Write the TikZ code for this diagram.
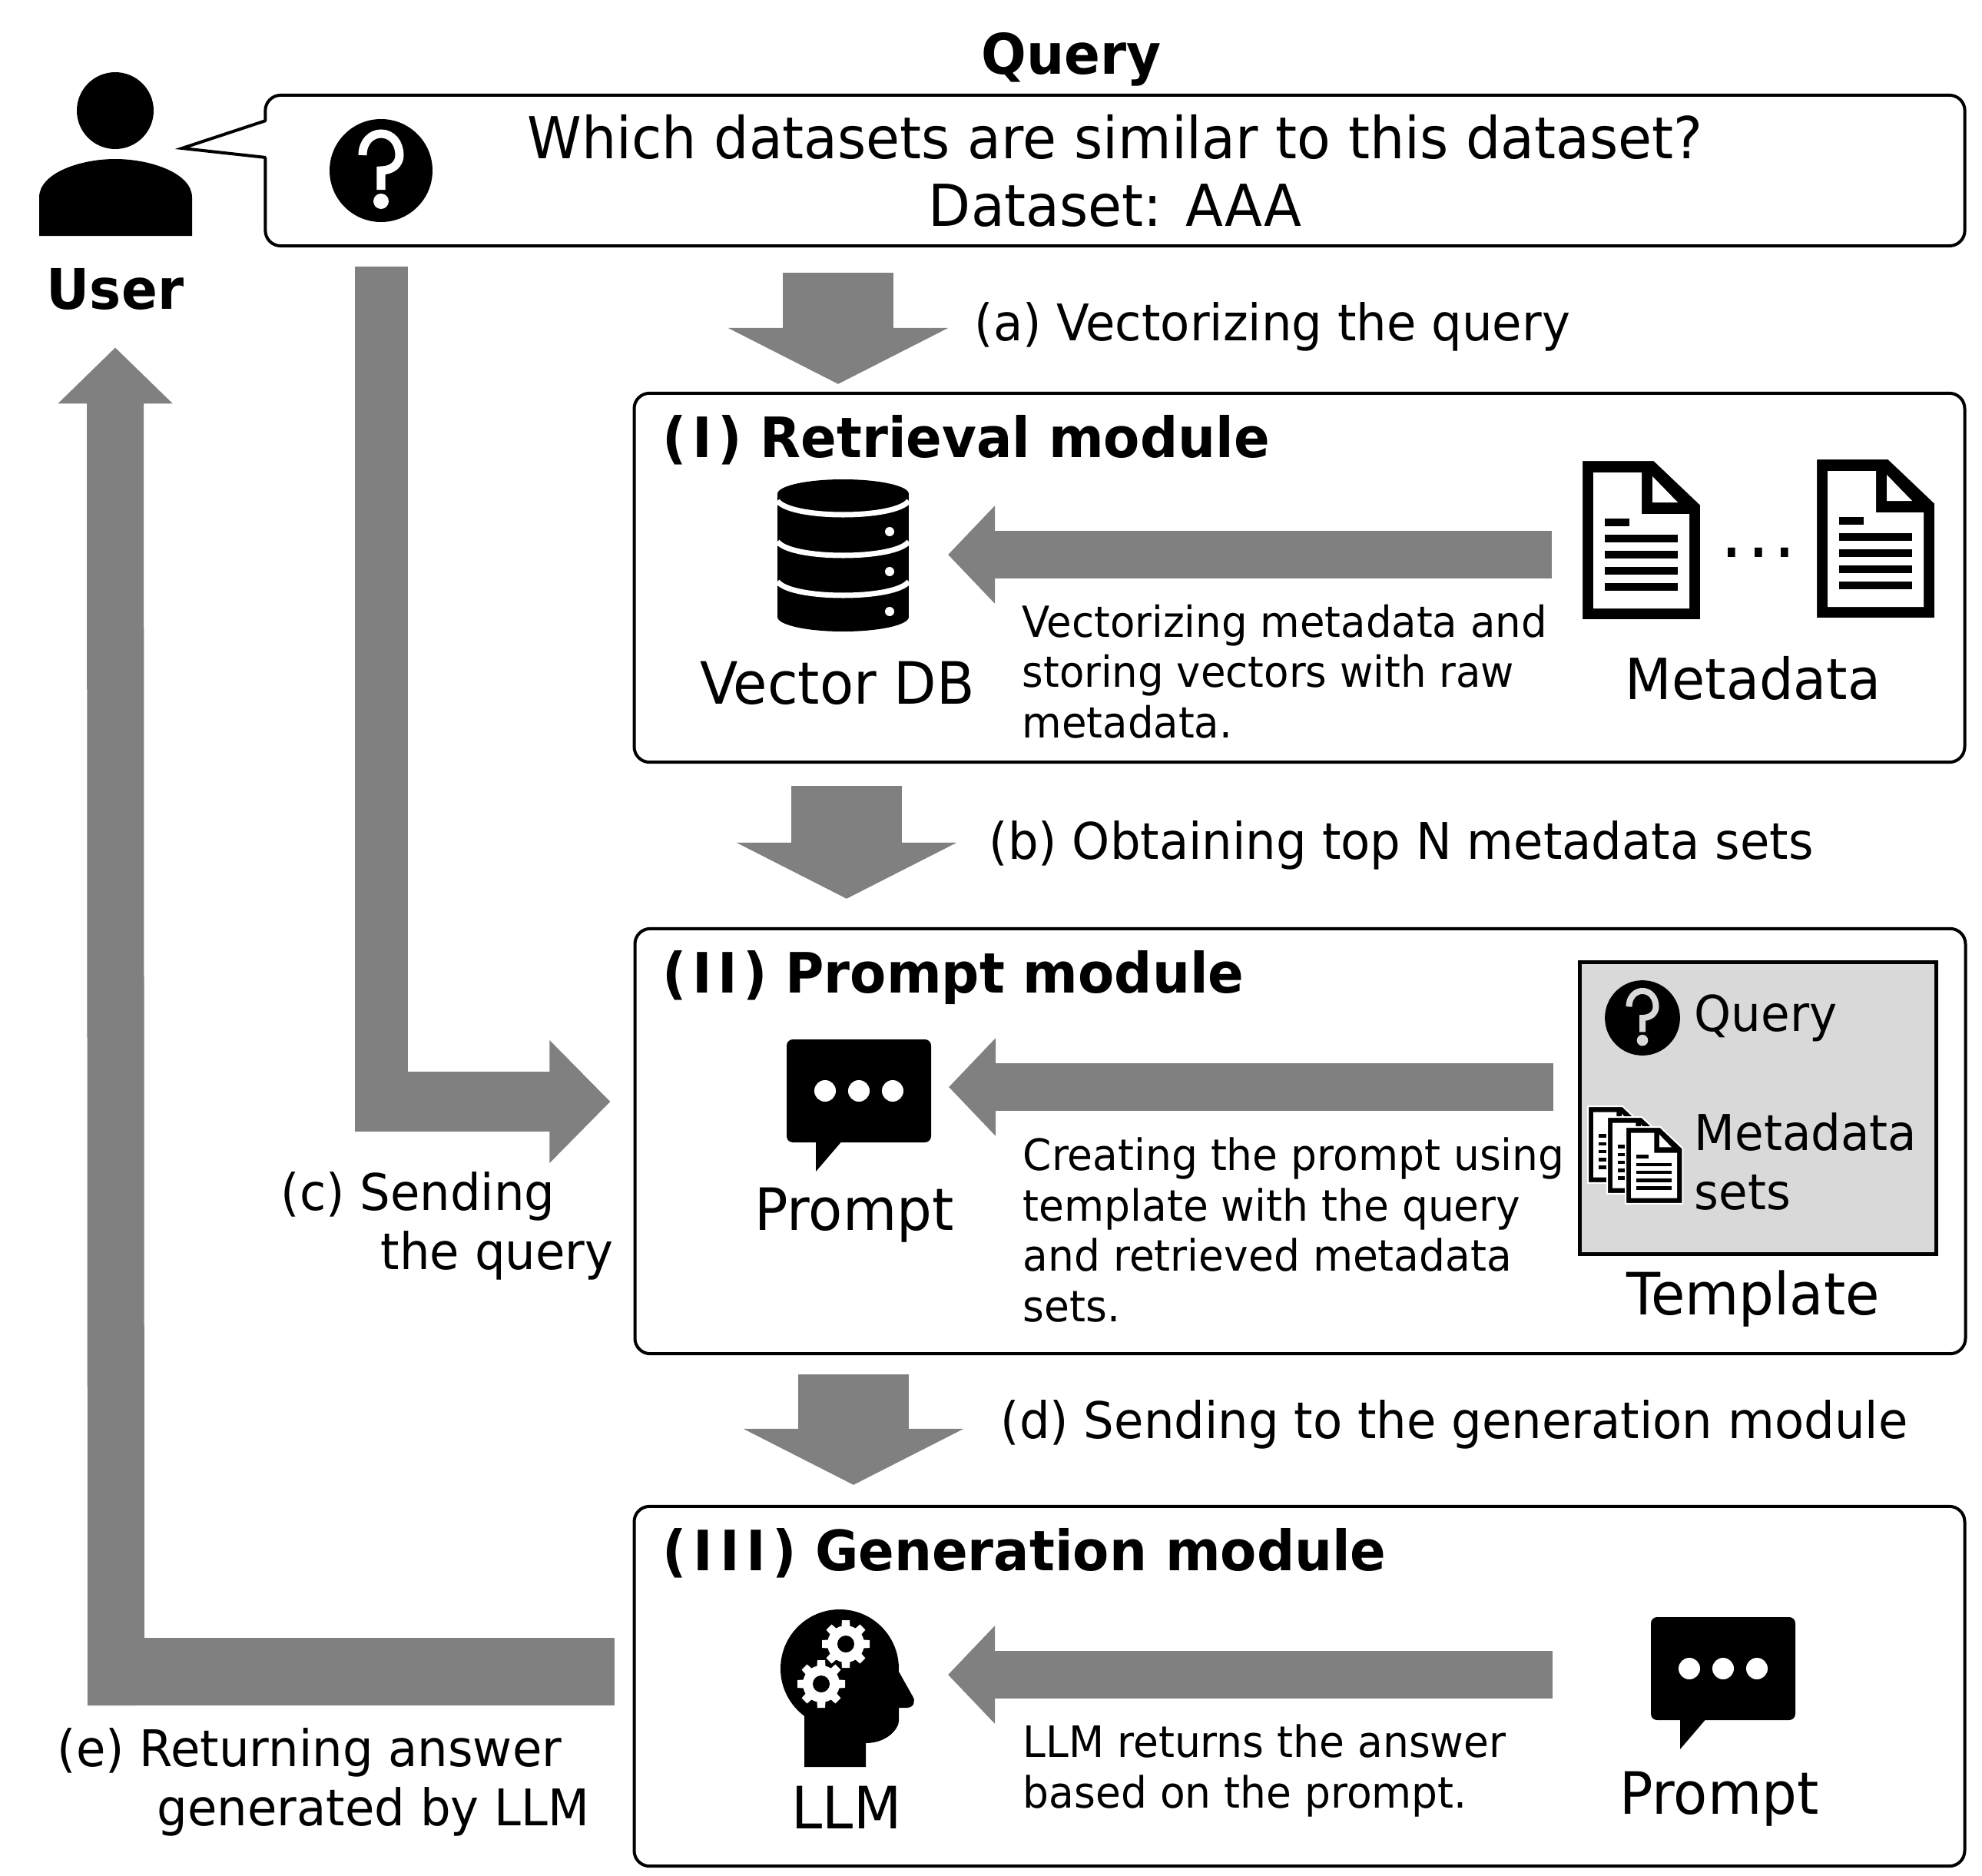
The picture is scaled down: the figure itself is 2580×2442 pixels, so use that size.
\documentclass[tikz,border=0pt]{standalone}
\usepackage{fontspec}
\setmainfont[FakeStretch=0.95]{DejaVu Sans}
\usetikzlibrary{arrows.meta}
\usetikzlibrary{positioning}
\definecolor{arrowgray}{HTML}{808080}
\definecolor{tmplgray}{HTML}{D9D9D9}

\begin{document}
\begin{tikzpicture}[x=0.01cm,y=-0.01cm,
    bigtext/.style={font=\fontsize{21.6}{25}\selectfont,inner sep=0},
    midtext/.style={font=\fontsize{18.7}{21.9}\selectfont,inner sep=0},
    tmpltext/.style={font=\fontsize{18.3}{21.9}\selectfont,inner sep=0},
    desctext/.style={font=\fontsize{15.85}{18.7}\selectfont,inner sep=0,align=left},
    titletext/.style={font=\fontsize{20.6}{25}\bfseries\selectfont,inner sep=0},
    headtext/.style={font=\fontsize{20.7}{25}\bfseries\selectfont,inner sep=0},
    modbox/.style={draw,line width=0.04cm,rounded corners=0.2cm,inner sep=0,minimum width=17.31cm},
    iconbox/.style={inner sep=0,outer sep=0},
    vbar/.style={draw=arrowgray,line width=1.43cm,-{Triangle[length=0.73cm,width=2.84cm]},arrowgray},
    hbar/.style={draw=arrowgray,line width=0.62cm,-{Triangle[length=0.61cm,width=1.24cm]},arrowgray},
    qmark/.style={draw=white,fill=white,line width=0.11cm},
    docicon/.pic={
      \filldraw[black,draw=white,line width=0.02cm] (0,0) -- (94,0) -- (155,58) -- (155,208) -- (0,208) -- cycle;
      \fill[white] (15,16) -- (78,16) -- (78,70) -- (140,70) -- (140,193) -- (15,193) -- cycle;
      \fill[white] (92,21) -- (125,55) -- (92,55) -- cycle;
      \fill[black] (30,76) rectangle (62,86);
      \foreach\i in {97,118,139,160} {
        \fill[black] (30,\i) rectangle (125,\i+10);
      }
    },
    qicon/.pic={
      \fill[black] (0,0) circle [radius=67];
      \draw[qmark,fill=none] (-24,-20) .. controls (-24,-38) and (-12,-48) .. (0,-48)
        .. controls (14,-48) and (24,-36) .. (24,-20) .. controls (24,-8) and (14,0) .. (0,0) -- (0,25);
      \fill[qmark,draw=none] (0,40) circle [radius=10];
    },
    msgicon/.pic={
      \fill[black,rounded corners=0.08cm] (0,0) rectangle (188,134);
      \fill[black] (38,130) -- (74,130) -- (38,172) -- cycle;
      \foreach\i in {50,94,138} {
        \fill[white] (\i,67) circle [radius=14];
      }
    },
    gearicon/.pic={
      \fill[white] (0,0) circle [radius=24];
      \foreach\a in {0,45,...,315} {
        \fill[white,rotate=\a] (-7,0) -- (-5,-31) -- (5,-31) -- (7,0) -- cycle;
      }
      \fill[black] (0,0) circle [radius=11];
    }]
  \useasboundingbox (0,0) rectangle (2580,2442);

  \fill[black] (150,144) circle [radius=50];
  \fill[black] (51,307) -- (51,257) .. controls (51,225) and (105,207) .. (150,207)
    .. controls (195,207) and (250,225) .. (250,257) -- (250,307) -- cycle;
  \node[headtext,anchor=mid] (usertext) at (150,393) {User};
  \node[headtext,anchor=mid] (querytitle) at (1395,87) {Query};

  \node[modbox,minimum width=22.11cm,minimum height=1.96cm,font=\fontsize{21.4}{25}\selectfont,align=center] (querybox) at (1451.5,222)
    {Which datasets are similar to this dataset?\\Dataset: AAA};
  \fill[white] (350,157) -- (236,193) -- (350,205) -- cycle;
  \draw[line width=0.04cm] (346,157) -- (237,193) -- (346,205);
  \pic at (496,222) {qicon};

  \node[modbox,minimum height=4.8cm] (retrieval) at (1691.5,752) {};
  \node[modbox,minimum height=5.53cm] (promptbox) at (1692.5,1485.5) {};
  \node[modbox,minimum height=4.68cm] (genbox) at (1691.5,2195) {};

  \node[titletext,anchor=mid west] (title1) at (862,586) {{\addfontfeature{LetterSpace=10}(I)} Retrieval module};
  \node[titletext,anchor=mid west] (title2) at (862,1283) {{\addfontfeature{LetterSpace=10}(II)} Prompt module};
  \node[titletext,anchor=mid west] (title3) at (862,2035) {{\addfontfeature{LetterSpace=12}(III)} Generation module};

  \node[iconbox,minimum width=1.71cm,minimum height=1.98cm] (dbicon) at (1097.5,722) {};
  \fill[black] (1012,643) rectangle (1183,803);
  \fill[black] (1097.5,643) ellipse [x radius=85.5,y radius=19];
  \fill[black] (1097.5,803) ellipse [x radius=85.5,y radius=19];
  \foreach\i in {652,705,757} {
    \draw[white,line width=0.07cm] (1012,\i) .. controls (1030,\i+24) and (1165,\i+24) .. (1183,\i);
  }
  \foreach\i in {692,744,796} {
    \fill[white] (1158,\i) circle [radius=6];
  }
  \node[bigtext,anchor=mid] (dblabel) at (1090,907) {Vector DB};

  \node[iconbox,minimum width=1.55cm,minimum height=2.08cm] (doc1) at (2136.5,703) {};
  \pic at (2059,599) {docicon};
  \pic at (2364,597) {docicon};
  \node[inner sep=0,font=\fontsize{28}{32}\selectfont,anchor=base] (dots) at (2289,725) {.\kern0.05em.\kern0.05em.};
  \node[bigtext,font=\fontsize{21}{25}\selectfont,anchor=mid] (metalabel) at (2282,901) {Metadata};
  \node[desctext,anchor=west] (desc1) at (1330,874)
    {Vectorizing metadata and\\storing vectors with raw\\metadata.};
  \draw[hbar,shorten <=0.39cm,shorten >=0.51cm] (doc1.west |- dbicon.east) -- (dbicon.east);

  \node[iconbox,minimum width=1.88cm,minimum height=1.72cm] (prompticon) at (1118,1415) {};
  \pic at (1024,1353) {msgicon};
  \node[bigtext,anchor=mid] (promptlabel) at (1112,1592) {Prompt};
  \node[draw,line width=0.05cm,fill=tmplgray,inner sep=0,minimum width=4.64cm,minimum height=3.8cm] (tmplbox) at (2288.5,1442.5) {};
  \pic[scale=0.73,qmark/.style={draw=tmplgray,fill=tmplgray,line width=0.08cm}] at (2138,1325) {qicon};
  \node[tmpltext,anchor=mid west] (tmplquery) at (2205,1333) {Query};
  \pic[scale=0.48] at (2067,1440) {docicon};
  \pic[scale=0.48] at (2092,1454) {docicon};
  \pic[scale=0.48] at (2116,1467) {docicon};
  \node[tmpltext,anchor=mid west] (tmplmeta) at (2205,1488) {Metadata};
  \node[tmpltext,anchor=mid west] (tmplsets) at (2205,1565) {sets};
  \node[bigtext,anchor=mid] (tmpllabel) at (2282,1702) {Template};
  \node[desctext,font=\fontsize{16}{18.7}\selectfont,anchor=west] (desc2) at (1331,1601)
    {Creating the prompt using\\template with the query\\and retrieved metadata\\sets.};
  \draw[hbar,shorten <=0.32cm,shorten >=0.23cm] (tmplbox.west |- prompticon.east) -- (prompticon.east);

  \node[iconbox,minimum width=1.72cm,minimum height=2.06cm] (llmicon) at (1103,2197) {};
  \fill[black] (1093,2172) circle [radius=77];
  \fill[black] (1047,2225) -- (1047,2300) -- (1127,2300) -- (1127,2269)
    .. controls (1155,2269) and (1170,2250) .. (1170,2240) -- (1170,2223) -- (1180,2223)
    .. controls (1190,2223) and (1192,2214) .. (1188,2208) -- (1170,2176) -- (1100,2150) -- cycle;
  \pic at (1101,2140) {gearicon};
  \pic at (1069,2192) {gearicon};
  \node[bigtext,anchor=mid] (llmlabel) at (1102,2371) {LLM};
  \node[iconbox,minimum width=1.88cm,minimum height=1.72cm] (prompticonb) at (2243,2166) {};
  \pic at (2149,2105) {msgicon};
  \node[bigtext,anchor=mid] (promptlabelb) at (2238,2352) {Prompt};
  \node[desctext,font=\fontsize{16}{18.7}\selectfont,anchor=west] (desc3) at (1331,2305)
    {LLM returns the answer\\based on the prompt.};
  \draw[hbar,shorten <=1.28cm,shorten >=0.61cm] (prompticonb.west |- 1103,2180) -- (1173,2180);

  \draw[vbar,shorten <=0.33cm,shorten >=0.10cm] (1091,0 |- querybox.south) -- (1091,0 |- retrieval.north);
  \node[midtext,anchor=mid west] (labela) at (1268,434) {(a) Vectorizing the query};
  \draw[vbar,shorten <=0.29cm,shorten >=0.37cm] (1102,0 |- retrieval.south) -- (1102,0 |- promptbox.north);
  \node[midtext,anchor=mid west] (labelb) at (1287,1109) {(b) Obtaining top N metadata sets};
  \draw[vbar,shorten <=0.25cm,shorten >=0.26cm] (1111,0 |- promptbox.south) -- (1111,0 |- genbox.north);
  \node[midtext,anchor=mid west] (labeld) at (1302,1863) {(d) Sending to the generation module};

  \draw[arrowgray,line width=0.69cm,shorten <=0.25cm] (496.5,0 |- querybox.south) -- (496.5,1473);
  \draw[arrowgray,line width=0.78cm,-{Triangle[length=0.79cm,width=1.55cm]},shorten >=0.30cm] (462,1434) -- (promptbox.west |- 462,1434);
  \node[midtext,anchor=west,align=left] (labelc) at (365,1596) {(c) Sending\\\hspace*{1.3cm}the query};

  \draw[arrowgray,line width=0.88cm,shorten <=0.23cm] (genbox.west |- 114,2176) -- (114,2176);
  \draw[arrowgray,line width=0.74cm,-{Triangle[length=0.73cm,width=1.45cm]},shorten >=0.48cm] (151,2220) -- (usertext.south);
  \node[midtext,anchor=west,align=left] (labele) at (74,2320) {(e) Returning answer\\\hspace*{1.3cm}generated by LLM};
\end{tikzpicture}
\end{document}
